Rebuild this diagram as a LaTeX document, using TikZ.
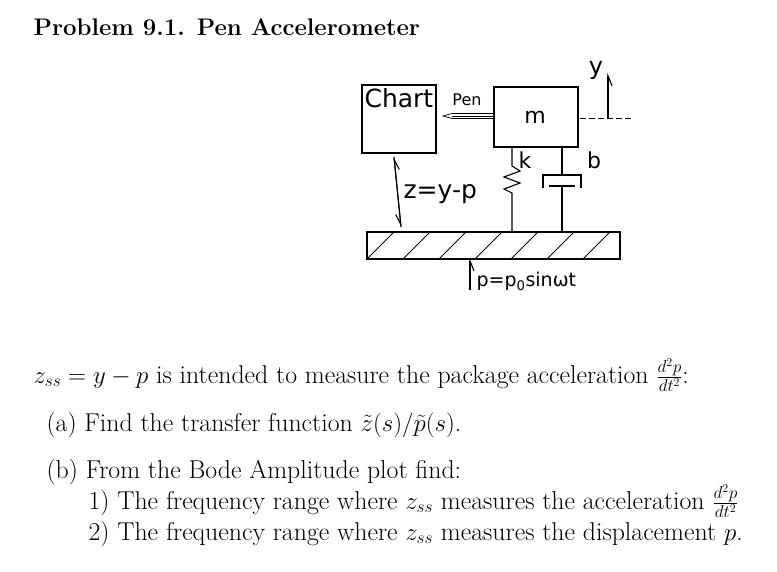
\documentclass[tikz,border=0pt]{standalone}
\usepackage{fontspec}
\newfontfamily\dv{DejaVu Sans}
\usetikzlibrary{arrows.meta}
\newcommand\fs[1]{\fontsize{#1}{#1}\selectfont}
\begin{document}
\begin{tikzpicture}[x=1pt,y=-1pt,line width=1.1pt,
  lbl/.style={font=\dv\fs{22},inner sep=0pt},
  txt/.style={anchor=west,inner sep=0pt,font=\fs{25.8}},
  harp/.style={-{Straight Barb[harpoon,swap,length=10pt,width=8pt]}}]
\useasboundingbox (0,0) rectangle (777,571);
\node[txt,anchor=base west,font=\bfseries\fs{24}] (title) at (33,35) {Problem 9.1. Pen Accelerometer};
% boxes
\draw (362,85) rectangle (436,153);
\node[lbl,font=\dv\fs{25},anchor=north west] (chart) at (364,88) {Chart};
\draw (494,87) rectangle (578,147);
\node[lbl] (m) at (535,117) {m};
\node[lbl,font=\dv\fs{16}] (pen) at (467,100) {Pen};
% pen
\draw[line width=0.7pt] (494,113.5) -- (452,113.5) -- (443,116) -- (452,118.5) -- (494,118.5);
\draw[line width=0.5pt] (452,116) -- (494,116);
% ground
\draw (367,232) rectangle (620,259);
\foreach \i in {0,...,6} \draw[line width=0.8pt] ({367+\i*36},259) -- ({367+\i*36+27},232);
% spring
\draw (512,147) -- (512,166) -- (520,171) -- (504,177) -- (520,183) -- (504,189) -- (512,193) -- (512,232);
\node[lbl] (k) at (525,160) {k};
% damper
\draw (562,147) -- (562,175);
\draw (543,188) -- (543,175) -- (581,175) -- (581,188);
\draw (549,186) -- (575,186);
\draw (562,186) -- (562,232);
\node[lbl] (b) at (594,160) {b};
% y
\draw[dash pattern=on 6pt off 3pt,line width=0.9pt] (580,118) -- (632,118);
\coordinate (yb) at (608,118); \coordinate (yt) at (608,73);
\draw[harp] (yb) -- (yt);
\node[lbl,font=\dv\fs{24}] (y) at (596,70) {y};
% z
\coordinate (zt) at (394,157); \coordinate (zb) at (401,227);
\draw[harp] (zb) -- (zt);
\draw[harp] (zt) -- (zb);
\node[lbl,font=\dv\fs{25},anchor=west] (z) at (403,194) {z=y-p};
% p
\coordinate (pb) at (470,290); \coordinate (pt) at (470,258);
\draw[harp] (pb) -- (pt);
\node[lbl,font=\dv\fs{19},anchor=west] (p) at (476,281) {p=p\textsubscript{0}sinωt};
% text
\node[txt,anchor=base west] (l1) at (33,383) {$z_{ss}=y-p$ is intended to measure the package acceleration $\frac{d^2p}{dt^2}$:};
\node[txt,anchor=base west] (l2) at (46,431) {(a) Find the transfer function $\tilde{z}(s)/\tilde{p}(s)$.};
\node[txt,anchor=base west] (l3) at (46,478) {(b) From the Bode Amplitude plot find:};
\node[txt,anchor=base west] (l4) at (88,509) {1) The frequency range where $z_{ss}$ measures the acceleration $\frac{d^2p}{dt^2}$};
\node[txt,anchor=base west] (l5) at (88,540) {2) The frequency range where $z_{ss}$ measures the displacement $p$.};
\end{tikzpicture}
\end{document}
